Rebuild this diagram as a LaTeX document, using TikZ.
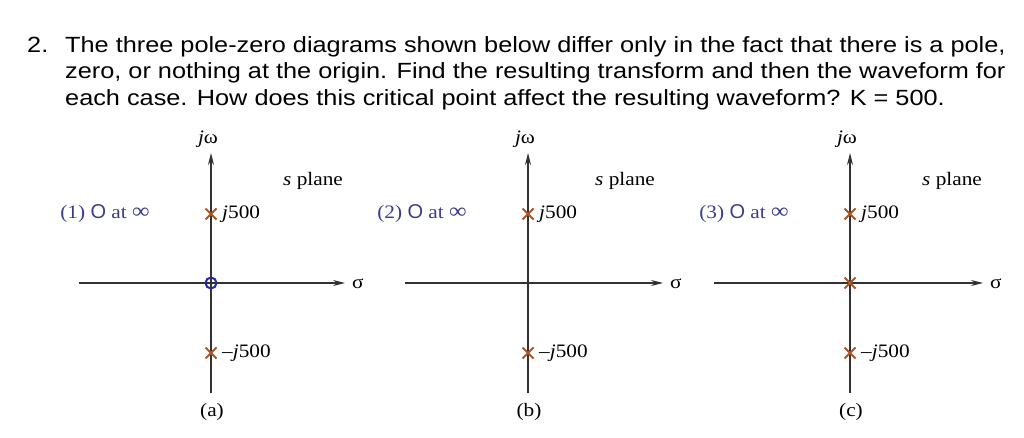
\documentclass[tikz,border=0pt]{standalone}
\usepackage{fontspec}
\setmainfont[FakeStretch=1.12]{Liberation Serif}
\newfontfamily\titlefont[FakeStretch=1.15]{Liberation Sans}
\newfontfamily\labelsans{Liberation Sans}
\usetikzlibrary{arrows.meta,shapes.misc}
\definecolor{axisgray}{RGB}{50,50,50}
\definecolor{polebrown}{RGB}{170,85,35}
\definecolor{zeroblue}{RGB}{40,40,160}
\definecolor{labelblue}{RGB}{60,60,140}
\tikzset{
  axisline/.style={draw=axisgray, line width=1.2pt},
  axisarrow/.style={axisline, -{Stealth[length=12pt,width=6pt]}},
  polemark/.style={draw=polebrown, line width=2pt, cross out, minimum size=9pt, inner sep=0pt},
  zeromark/.style={draw=zeroblue, line width=2pt, circle, minimum size=11pt, inner sep=0pt},
  dtext/.style={font=\fontsize{19}{21}\selectfont, inner sep=0pt},
  titletext/.style={font=\titlefont\fontsize{22}{24}\selectfont, anchor=base west, inner sep=0pt},
}
\begin{document}
\begin{tikzpicture}[x=1pt,y=-1pt]
\useasboundingbox (0,0) rectangle (1024,438);
% title
\node[titletext] (num) at (27,53) {2.};
\node[titletext] (t1) at (65,53) {The three pole-zero diagrams shown below differ only in the fact that there is a pole,};
\node[titletext] (t2) at (65,79) {zero, or nothing at the origin. Find the resulting transform and then the waveform for};
\node[titletext] (t3) at (65,106) {each case. How does this critical point affect the resulting waveform? K = 500.};
% diagrams
\foreach \X/\L/\R/\S/\n/\cap in {211/132/134/102/1/a, 528/123/135/97/2/b, 850/136/133/102/3/c}{
  \coordinate (top\cap) at (\X,153);
  \coordinate (bot\cap) at (\X,393);
  \coordinate (left\cap) at (\X-\L,283);
  \coordinate (right\cap) at (\X+\R,283);
  \draw[axisarrow] (bot\cap) -- (top\cap);
  \draw[axisarrow] (left\cap) -- (right\cap);
  \node[dtext, anchor=west] (sig\cap) at (\X+\R+7,284) {σ};
  \node[dtext] (jw\cap) at (\X-3,139) {\textit{j}ω};
  \node[dtext] (sp\cap) at (\X+\S,181) {\textit{s} plane};
  \node[dtext, text=labelblue] (lab\cap) at (\X-106,214) {(\n) {\labelsans\fontsize{20}{22}\selectfont O} at {\fontsize{22}{22}\selectfont ∞}};
  \node[polemark] (pp\cap) at (\X,214) {};
  \node[polemark] (pn\cap) at (\X,353) {};
  \node[dtext, anchor=west] (lp\cap) at (\X+11,214) {\textit{j}500};
  \node[dtext, anchor=west] (ln\cap) at (\X+11,353) {–\textit{j}500};
  \node[dtext] (cap\cap) at (\X+1,412) {(\cap)};
}
\node[zeromark] (z0) at (211,283) {};
\node[polemark] (p0) at (850,283) {};
\end{tikzpicture}
\end{document}
